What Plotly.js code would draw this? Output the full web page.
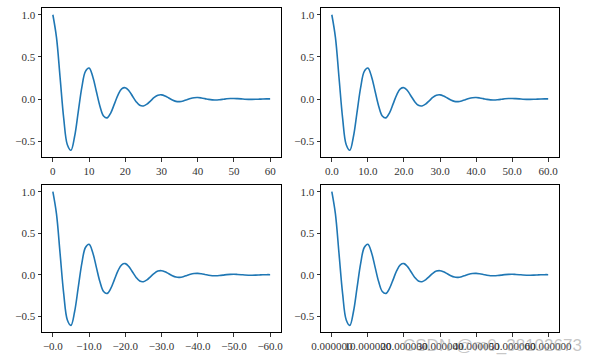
<!DOCTYPE html>
<html>
<head>
<meta charset="utf-8">
<script src="https://cdn.plot.ly/plotly-3.0.1.min.js"></script>
<style>html,body{margin:0;padding:0;background:#fff;}#chart{width:598px;height:363px;}</style>
</head>
<body>
<div id="chart"></div>
<script>
// x positions
const xValues = [0,1,2,3,4,5,6,7,8,9,10,11,12,13,14,15,16,17,18,19,20,21,22,23,24,25,26,27,28,29,30,31,32,33,34,35,36,37,38,39,40,41,42,43,44,45,46,47,48,49,50,51,52,53,54,55,56,57,58,59,60];
// damped oscillation values
const yValues = [1.000,0.732,0.253,-0.229,-0.542,-0.607,-0.444,-0.154,0.139,0.329,
  0.368,0.269,0.093,-0.084,-0.200,-0.223,-0.163,-0.057,0.051,0.121,
  0.135,0.099,0.034,-0.031,-0.074,-0.082,-0.060,-0.021,0.019,0.045,
  0.050,0.036,0.013,-0.011,-0.027,-0.030,-0.022,-0.008,0.007,0.016,
  0.018,0.013,0.005,-0.004,-0.010,-0.011,-0.008,-0.003,0.003,0.006,
  0.007,0.005,0.002,-0.002,-0.004,-0.004,-0.003,-0.001,0.001,0.002,0.002];

const xTickVals = [0,10,20,30,40,50,60];
const xTicksPlain = ['0','10','20','30','40','50','60'];
const xTicksOneDec = ['0.0','10.0','20.0','30.0','40.0','50.0','60.0'];
const xTicksNeg = ['\u22120.0','\u221210.0','\u221220.0','\u221230.0','\u221240.0','\u221250.0','\u221260.0'];
const xTicksSixDec = ['0.000000','10.000000','20.000000','30.000000','40.000000','50.000000','60.000000'];
const yTickVals = [-0.5,0,0.5,1.0];
const yTickText = ['\u22120.5','0.0','0.5','1.0'];
const watermark = 'CSDN @m0_38102673';

const W = 598, H = 363;
const colX = [[42,281],[321,559]];
const rowY = [[8,157],[185,332]];
const tickFont = {family:'Liberation Serif, DejaVu Serif, serif', size:11, color:'#333'};

const xLabelSets = [xTicksPlain, xTicksOneDec, xTicksNeg, xTicksSixDec];
const traces = [];
const layout = {
  width: W, height: H,
  margin: {l:0,r:0,t:0,b:0},
  paper_bgcolor:'#fff', plot_bgcolor:'#fff',
  showlegend:false,
  annotations:[{
    text: watermark, xref:'paper', yref:'paper',
    x: 584/W, y: 1-345/H, xanchor:'right', yanchor:'middle',
    showarrow:false,
    font:{family:'Liberation Sans, DejaVu Sans, sans-serif', size:17, color:'rgba(150,150,150,0.55)'}
  }]
};

for (let i = 0; i < 4; i++) {
  const r = Math.floor(i/2), c = i % 2;
  const n = i === 0 ? '' : String(i+1);
  traces.push({
    x: xValues, y: yValues, type:'scatter', mode:'lines',
    xaxis: 'x'+n, yaxis: 'y'+n,
    line:{color:'#1f77b4', width:1.6, shape:'spline', smoothing:1.0},
    hoverinfo:'skip'
  });
  const common = {
    showline:true, mirror:true, linecolor:'#000', linewidth:1,
    showgrid:false, zeroline:false,
    ticks:'outside', ticklen:3.5, tickwidth:0.8, tickcolor:'#000',
    tickfont: tickFont, automargin:false, fixedrange:true
  };
  layout['xaxis'+n] = Object.assign({}, common, {
    domain:[colX[c][0]/W, colX[c][1]/W],
    anchor:'y'+n,
    range:[-3,63],
    tickmode:'array', tickvals:xTickVals, ticktext:xLabelSets[i],
    tickangle:0
  });
  layout['yaxis'+n] = Object.assign({}, common, {
    domain:[1-rowY[r][1]/H, 1-rowY[r][0]/H],
    anchor:'x'+n,
    range:[-0.687,1.08],
    tickmode:'array', tickvals:yTickVals, ticktext:yTickText
  });
}

Plotly.newPlot('chart', traces, layout, {staticPlot:true, displayModeBar:false});
</script>
</body>
</html>
